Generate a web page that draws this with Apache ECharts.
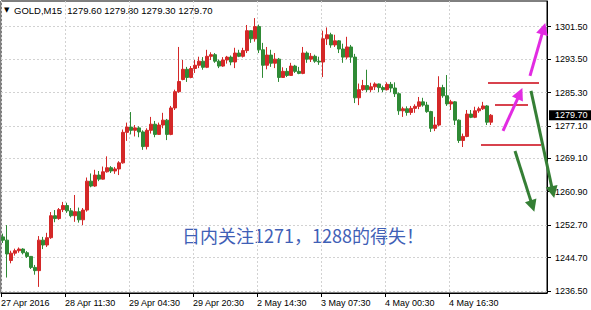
<!DOCTYPE html>
<html><head><meta charset="utf-8">
<script src="https://cdn.jsdelivr.net/npm/echarts@6/dist/echarts.min.js"></script>
<style>html,body{margin:0;padding:0;background:#fff}#c{width:591px;height:310px}</style>
</head><body><div id="c"></div>
<script>
// ---- data ----
const symbolName = 'GOLD,M15';
const lastBar = [1279.60, 1279.80, 1279.30, 1279.70];          // O H L C of the last M15 bar (header)
const barsPerCandle = 4;                                          // M15 bars aggregated per drawn candle
const xTickBars = [0, 64, 128, 192, 256, 320, 384, 448];          // M15 bar index of each time label
const xTickLabels = ['27 Apr 2016', '28 Apr 11:30', '29 Apr 04:30', '29 Apr 20:30',
                     '2 May 14:30', '3 May 07:30', '4 May 00:30', '4 May 16:30'];
const yTicks = [1236.5, 1244.7, 1252.7, 1260.9, 1269.1, 1277.1, 1285.3, 1293.5, 1301.5];

const opens = [1249.8,1249.0,1244.0,1245.8,1246.4,1246.8,1245.9,1245.0,1242.3,1241.5,
1249.0,1247.8,1249.6,1255.0,1254.3,1256.5,1257.5,1256.2,1255.0,1256.0,
1254.0,1256.4,1263.5,1262.3,1265.0,1264.0,1265.8,1266.8,1266.0,1266.5,
1268.0,1275.5,1276.8,1276.0,1276.6,1275.6,1272.0,1276.0,1277.5,1275.0,
1277.3,1278.5,1275.0,1281.5,1285.5,1288.5,1291.0,1289.0,1291.2,1292.0,
1293.0,1291.5,1294.2,1294.6,1293.0,1291.8,1293.3,1294.0,1292.8,1295.0,
1294.2,1295.6,1300.5,1298.5,1301.5,1295.8,1292.0,1294.5,1292.5,1293.5,
1289.0,1290.5,1289.5,1291.8,1290.5,1290.0,1295.0,1293.5,1294.2,1293.0,
1292.8,1298.5,1299.5,1297.0,1298.0,1296.0,1294.0,1296.5,1294.0,1284.0,
1286.0,1287.0,1286.0,1286.7,1287.4,1286.5,1286.0,1287.3,1286.4,1285.0,
1280.8,1281.3,1280.4,1281.4,1281.9,1283.0,1282.2,1280.6,1276.5,1277.3,
1286.5,1284.5,1282.5,1283.0,1278.5,1273.5,1274.5,1280.0,1279.2,1280.8,
1281.3,1282.0,1278.0];
const closes = [1249.0,1245.6,1245.8,1246.4,1246.8,1245.9,1245.0,1242.3,1241.5,1249.0,
1247.8,1249.6,1255.0,1254.3,1256.5,1257.5,1256.2,1255.0,1256.0,1254.0,
1256.4,1263.5,1262.3,1265.0,1264.0,1265.8,1266.8,1266.0,1266.5,1268.0,
1275.5,1276.8,1276.0,1276.6,1275.6,1272.0,1276.0,1277.5,1275.0,1277.3,
1278.5,1275.0,1281.5,1285.5,1288.0,1291.0,1289.0,1291.2,1292.0,1293.0,
1291.5,1294.2,1294.6,1293.0,1291.8,1293.3,1294.0,1292.8,1295.0,1294.2,
1295.6,1300.5,1298.5,1301.5,1295.8,1292.0,1294.5,1292.5,1293.5,1289.0,
1290.5,1289.5,1291.8,1290.5,1290.0,1295.0,1293.5,1294.2,1293.0,1292.8,
1298.5,1299.5,1297.0,1298.0,1296.0,1294.0,1296.5,1294.0,1284.0,1286.0,
1287.0,1286.0,1286.7,1287.4,1286.5,1286.0,1287.3,1286.4,1285.0,1280.8,
1281.3,1280.4,1281.4,1281.9,1283.0,1282.2,1280.6,1276.5,1277.3,1286.5,
1284.5,1282.5,1283.0,1278.5,1273.5,1274.5,1280.0,1279.2,1280.8,1281.3,
1282.0,1278.0,1279.7];
const lows = [1248.3,1239.8,1243.3,1245.2,1245.9,1245.5,1244.6,1241.9,1240.5,1237.5,
1246.8,1247.3,1249.3,1253.4,1254.0,1255.9,1255.7,1254.6,1253.5,1253.3,
1252.7,1256.0,1262.0,1262.1,1263.5,1263.9,1265.6,1265.5,1265.3,1265.0,
1267.8,1273.4,1275.0,1274.5,1274.3,1271.2,1271.3,1275.2,1274.3,1274.9,
1276.5,1273.6,1274.8,1281.0,1285.2,1288.3,1287.9,1288.8,1290.1,1291.3,
1290.9,1291.3,1293.3,1292.6,1291.3,1291.6,1292.4,1292.0,1291.3,1294.0,
1293.9,1295.0,1297.5,1297.8,1295.0,1288.9,1291.0,1291.6,1291.3,1287.9,
1288.9,1289.1,1289.4,1290.1,1289.8,1289.8,1292.6,1292.8,1292.6,1292.1,
1289.1,1297.0,1296.3,1296.5,1295.0,1292.6,1293.5,1292.6,1282.7,1282.2,
1285.7,1285.4,1285.4,1285.9,1285.4,1285.4,1285.8,1285.4,1284.2,1279.8,
1279.3,1279.6,1279.8,1280.3,1281.2,1281.8,1280.3,1275.6,1275.8,1277.0,
1284.0,1282.0,1281.0,1277.3,1272.9,1271.9,1274.3,1279.0,1279.0,1280.3,
1281.0,1277.3,1277.3];
const highs = [1250.6,1252.7,1246.4,1246.9,1247.2,1247.0,1246.3,1245.1,1242.9,1250.0,
1249.8,1250.8,1255.9,1256.4,1256.9,1258.4,1258.2,1256.9,1260.1,1257.0,
1256.9,1264.4,1265.4,1266.3,1266.0,1267.1,1269.6,1267.2,1267.0,1268.4,
1276.2,1277.9,1280.5,1277.3,1277.0,1276.0,1276.5,1279.3,1278.3,1277.9,
1280.3,1278.8,1282.0,1286.0,1296.5,1293.3,1291.6,1291.8,1293.3,1294.1,
1294.0,1295.8,1295.2,1295.0,1293.4,1294.0,1294.3,1294.4,1296.3,1295.8,
1296.3,1301.9,1300.6,1303.6,1302.0,1297.5,1296.5,1295.8,1295.0,1293.8,
1291.5,1291.3,1292.6,1292.1,1291.6,1296.5,1295.4,1295.0,1294.6,1294.1,
1300.5,1301.3,1300.0,1299.5,1298.2,1297.3,1299.0,1297.0,1294.8,1287.5,
1288.4,1290.9,1287.7,1287.8,1287.5,1287.0,1287.8,1287.9,1287.8,1285.3,
1281.8,1281.9,1282.0,1282.4,1284.2,1284.0,1283.0,1280.8,1279.3,1289.3,
1287.2,1289.6,1283.5,1283.2,1278.7,1275.2,1281.0,1281.0,1281.8,1281.8,
1283.0,1282.2,1280.0];

// annotations (bar index, price)
const levels = [[487, 538, 1287.7], [494, 527, 1282.4], [480, 540, 1272.5]];   // [fromBar, toBar, price]
const upArrows = [[[502, 1275.85], [518.9, 1285.05]], [[529, 1289.38], [542.6, 1300.99]]];
const downArrows = [[[514, 1270.93], [531.5, 1257.36]], [[530, 1285.69], [551.9, 1260.82]]];
const note = '日内关注1271，1288的得失！';

// ---- chart ----
const chart = echarts.init(document.getElementById('c'), null, {renderer: 'svg'});
const candles = opens.map((o, i) => [i * barsPerCandle + barsPerCandle / 2, o, closes[i], lows[i], highs[i]]);
const lastClose = closes[closes.length - 1];
const upC = '#d42828', dnC = '#2f8a35';
const gridLine = {show: true, lineStyle: {color: '#d2d2d2', width: 1, type: [2, 2]}};
const lbl = {color: '#000', fontSize: 9, fontFamily: 'Liberation Sans'};
const yMin = 1236.0, yMax = 1307.8;

chart.setOption({
  animation: false,
  backgroundColor: '#fff',
  grid: {left: 1, top: 1, width: 546, height: 292, show: true, borderColor: '#000', borderWidth: 1,
         outerBoundsMode: 'none', containLabel: false},
  xAxis: {
    type: 'value', min: 0, max: 546,
    axisLine: {show: true, onZero: false, lineStyle: {color: '#000', width: 1}},
    axisTick: {show: true, length: 4, customValues: xTickBars, lineStyle: {color: '#000'}},
    axisLabel: Object.assign({customValues: xTickBars, align: 'left', margin: 5,
      formatter: v => xTickLabels[xTickBars.indexOf(v)]}, lbl),
    splitLine: gridLine
  },
  yAxis: [{
    type: 'value', position: 'right', min: yMin, max: yMax,
    axisLine: {show: true, onZero: false, lineStyle: {color: '#000', width: 1}},
    axisTick: {show: true, length: 4, customValues: yTicks, lineStyle: {color: '#000'}},
    axisLabel: Object.assign({customValues: yTicks, margin: 8, formatter: v => v.toFixed(2)}, lbl),
    splitLine: gridLine
  }, {
    type: 'value', position: 'right', min: yMin, max: yMax,
    axisLine: {show: false}, axisTick: {show: false}, splitLine: {show: false},
    axisLabel: {customValues: [lastClose], margin: 2, formatter: v => v.toFixed(2),
      backgroundColor: '#000', color: '#fff', padding: [1, 6, 0, 6],
      fontSize: 9, fontFamily: 'Liberation Sans'}
  }],
  series: [
    {
      type: 'candlestick', data: candles, barWidth: 3,
      itemStyle: {color: upC, color0: dnC, borderColor: upC, borderColor0: dnC, borderWidth: 1}
    },
    {
      type: 'lines', coordinateSystem: 'cartesian2d', clip: false, silent: true, symbol: 'none',
      data: levels.map(l => ({coords: [[l[0], l[2]], [l[1], l[2]]]})),
      lineStyle: {color: '#d8424d', width: 2, opacity: 1}
    },
    {
      type: 'lines', coordinateSystem: 'cartesian2d', clip: false, silent: true,
      symbol: ['none', 'triangle'], symbolSize: [10, 12],
      data: upArrows.map(a => ({coords: a})),
      lineStyle: {color: '#e22be2', width: 3, opacity: 1}
    },
    {
      type: 'lines', coordinateSystem: 'cartesian2d', clip: false, silent: true,
      symbol: ['none', 'triangle'], symbolSize: [10, 12],
      data: downArrows.map(a => ({coords: a})),
      lineStyle: {color: '#357f35', width: 3, opacity: 1}
    }
  ],
  graphic: [
    {type: 'text', left: 4, top: 6, silent: true,
     style: {text: '▼', fontSize: 7, fill: '#000', fontFamily: 'DejaVu Sans'}},
    {type: 'text', left: 14, top: 5, silent: true,
     style: {text: symbolName + '  ' + lastBar.map(v => v.toFixed(2)).join(' '),
             fontSize: 9.5, fill: '#000', fontFamily: 'Liberation Sans'}},
    {type: 'text', left: 182, top: 226, silent: true,
     style: {text: note, fontSize: 18, fill: '#3f60b6', fontFamily: 'Noto Sans CJK SC'}}
  ]
});
</script>
</body></html>
